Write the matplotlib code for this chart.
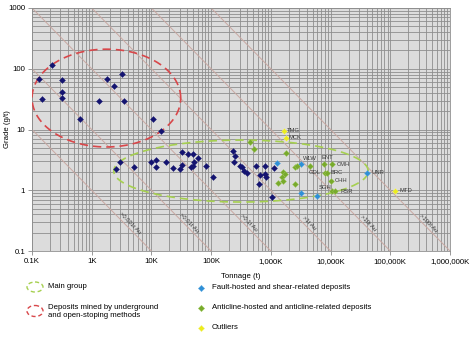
import numpy as np
import matplotlib.pyplot as plt
from matplotlib.patches import Ellipse
from matplotlib.ticker import FixedLocator, LogLocator, NullFormatter

plt.rcParams['font.family'] = ['Liberation Sans', 'DejaVu Sans']

# tonnage (t) and grade (g/t) of each deposit
underground_t = [215, 131, 316, 149, 316, 324, 625, 1780, 3270, 2370, 1330, 3540, 10600, 14300]
underground_g = [116, 66.9, 64.4, 31.7, 40.8, 33.3, 15.0, 68.4, 82.7, 52.5, 29.7, 29.7, 14.7, 9.5]

main_t = [2520, 3030, 5010, 9890, 12100, 12100, 17800, 23000, 29900, 32900, 32200, 40200,
          50400, 60000, 50700, 45700, 50000, 82700, 108000, 230000, 247000, 239000, 305000,
          330000, 357000, 405000, 568000, 784000, 650000, 784000, 837000, 631000, 1040000, 1150000]
main_g = [2.23, 2.94, 2.45, 2.90, 3.13, 2.43, 2.92, 2.29, 2.25, 2.59, 4.32, 3.89,
          3.90, 3.44, 2.90, 2.40, 2.54, 2.54, 1.63, 4.36, 3.65, 2.94, 2.54,
          2.45, 2.10, 1.94, 2.49, 2.49, 1.81, 1.82, 1.63, 1.29, 0.77, 2.29]

fault_t = [1250000, 3160000, 3160000, 5970000, 40400000]
fault_g = [2.85, 2.66, 0.91, 0.80, 1.94]
fault_names = ['', '', '', '', 'UNR']

anticline_t = [455000, 532000, 1770000, 1620000, 1700000, 1560000, 1600000, 1320000, 2510000,
               2780000, 2580000, 4600000, 7780000, 10400000, 8100000, 8700000, 10100000,
               10500000, 11900000]
anticline_g = [6.27, 4.70, 4.04, 1.99, 1.84, 1.66, 1.41, 1.34, 2.43,
               2.49, 1.29, 2.54, 2.69, 2.69, 1.94, 1.94, 1.43,
               0.97, 0.97]
anticline_names = ['', '', '', '', '', '', '', '', '',
                   '', '', 'WLW', 'ENT', 'CMH', 'GDL', 'BRC', 'CHH',
                   'SGH', 'RSR']

outlier_t = [1640000, 1770000, 118000000]
outlier_g = [9.41, 7.30, 0.98]
outlier_names = ['TMG', 'MCK', 'MTD']

# contained gold lines, grams (tonnage x grade)
contained_g = [1e3, 1e4, 1e5, 1e6, 1e7, 1e8]
contained_labels = ['>0.001t Au', '>0.01t Au', '>0.1t Au', '>1t Au', '>10t Au', '>100t Au']

# label offsets in pixels
label_offsets = {'TMG': (3, 1, 'left'), 'MCK': (3, 0, 'left'), 'MTD': (5, 0, 'left'),
                 'UNR': (5, 0, 'left'), 'WLW': (-1, 7, 'center'), 'ENT': (3, 7, 'center'),
                 'CMH': (5, 0, 'left'), 'GDL': (-4, 0, 'right'), 'BRC': (4, 0, 'left'),
                 'CHH': (4, 0, 'left'), 'SGH': (0, 4, 'right'), 'RSR': (5, 0, 'left')}

W, H = 474, 341
fig = plt.figure(figsize=(W / 100, H / 100), dpi=100)
ax = fig.add_axes([32 / W, 1 - 251 / H, (450 - 32) / W, (251 - 8) / H])
ax.set_facecolor('#dcdcdc')
ax.set_xscale('log')
ax.set_yscale('log')
ax.set_xlim(100, 1e9)
ax.set_ylim(0.1, 1000)

ax.xaxis.set_major_locator(FixedLocator([1e2, 1e3, 1e4, 1e5, 1e6, 1e7, 1e8, 1e9]))
ax.set_xticklabels(['0.1K', '1K', '10K', '100K', '1,000K', '10,000K', '100,000K', '1,000,000K'])
ax.yaxis.set_major_locator(FixedLocator([0.1, 1, 10, 100, 1000]))
ax.set_yticklabels(['0.1', '1', '10', '100', '1000'])
for axis in (ax.xaxis, ax.yaxis):
    axis.set_minor_locator(LogLocator(base=10, subs=np.arange(2, 10), numticks=20))
    axis.set_minor_formatter(NullFormatter())
ax.tick_params(which='major', labelsize=5.6, length=3, width=0.6, color='#888888', pad=2)
ax.tick_params(which='minor', length=0)
ax.grid(which='both', color='#8e8e8e', lw=0.6)
ax.set_axisbelow(True)
for s in ax.spines.values():
    s.set_color('#8e8e8e')
    s.set_linewidth(0.6)

ax.set_xlabel('Tonnage (t)', fontsize=5.6)
ax.xaxis.set_label_coords((241 - 32) / 418, -(273 - 251) / 243)
ax.set_ylabel('Grade (g/t)', fontsize=5.6)
ax.yaxis.set_label_coords(-(32 - 11) / 418, 0.5)

# contained gold diagonals
tt = np.logspace(2, 9, 200)
p0 = ax.transData.transform((1e3, 1.0))
p1 = ax.transData.transform((1e4, 0.1))
angle = np.degrees(np.arctan2(p1[1] - p0[1], p1[0] - p0[0]))
for c, lab in zip(contained_g, contained_labels):
    ax.plot(tt, c / tt, color='#c9a8a2', lw=0.7, zorder=1)
    ax.text(1.25 * c / 0.29, 0.29, lab, fontsize=4.2, rotation=angle, color='#333333',
            ha='center', va='center', rotation_mode='anchor', zorder=2)


def log_ellipse(cx, cy, ax_decades, ay_decades, color):
    t = np.linspace(0, 2 * np.pi, 300)
    x = 10 ** (np.log10(cx) + ax_decades * np.cos(t))
    y = 10 ** (np.log10(cy) + ay_decades * np.sin(t))
    ax.plot(x, y, color=color, lw=1.2, ls=(0, (5, 3)), zorder=3)


log_ellipse(1760, 32.9, 1.245, 0.805, '#d8474a')
log_ellipse(316000, 2.07, 2.13, 0.51, '#a6d050')

mk = dict(marker='D', ms=3.0, ls='none', zorder=4)
ax.plot(underground_t, underground_g, color='#141470', mec='#141470', mew=0.3, **mk)
ax.plot(main_t, main_g, color='#141470', mec='#141470', mew=0.3, **mk)
ax.plot(fault_t, fault_g, color='#2f8fd6', mec='#5aa8e0', mew=0.3, **mk)
ax.plot(anticline_t, anticline_g, color='#78aa2c', mec='#9cc858', mew=0.3, **mk)
ax.plot(outlier_t, outlier_g, color='#ecec1c', mec='#f4f48a', mew=0.3, **mk)

for ts, gs, names in ((fault_t, fault_g, fault_names),
                      (anticline_t, anticline_g, anticline_names),
                      (outlier_t, outlier_g, outlier_names)):
    for t, g, n in zip(ts, gs, names):
        if not n:
            continue
        dx, dy, ha = label_offsets[n]
        ax.annotate(n, (t, g), xytext=(dx, dy), textcoords='offset pixels',
                    fontsize=4.2, color='#3a3a3a', ha=ha, va='center', zorder=5)

# legend below the plot, in pixel coordinates
lax = fig.add_axes([0, 0, 1, 1], zorder=-1)
lax.set_xlim(0, W)
lax.set_ylim(H, 0)
lax.axis('off')
lax.add_patch(Ellipse((35, 287), 16, 10, fill=False, ec='#a6d050', lw=1.0, ls=(0, (3, 2))))
lax.add_patch(Ellipse((35, 311), 16, 11, fill=False, ec='#d8474a', lw=1.0, ls=(0, (3, 2))))
lax.text(48, 287, 'Main group', fontsize=5.6, va='center')
lax.text(48, 311.5, 'Deposits mined by underground\nand open-stoping methods', fontsize=5.6,
         va='center', linespacing=1.1)
lax.plot([201], [287.5], marker='D', ms=3.2, color='#2f8fd6', mec='#5aa8e0', mew=0.3)
lax.plot([201], [307.5], marker='D', ms=3.2, color='#78aa2c', mec='#9cc858', mew=0.3)
lax.plot([201], [327.5], marker='D', ms=3.2, color='#ecec1c', mec='#f4f48a', mew=0.3)
lax.text(212, 287.5, 'Fault-hosted and shear-related deposits', fontsize=5.6, va='center')
lax.text(212, 307.5, 'Anticline-hosted and anticline-related deposits', fontsize=5.6, va='center')
lax.text(212, 327.5, 'Outliers', fontsize=5.6, va='center')

fig.savefig('out.png', dpi=100)
